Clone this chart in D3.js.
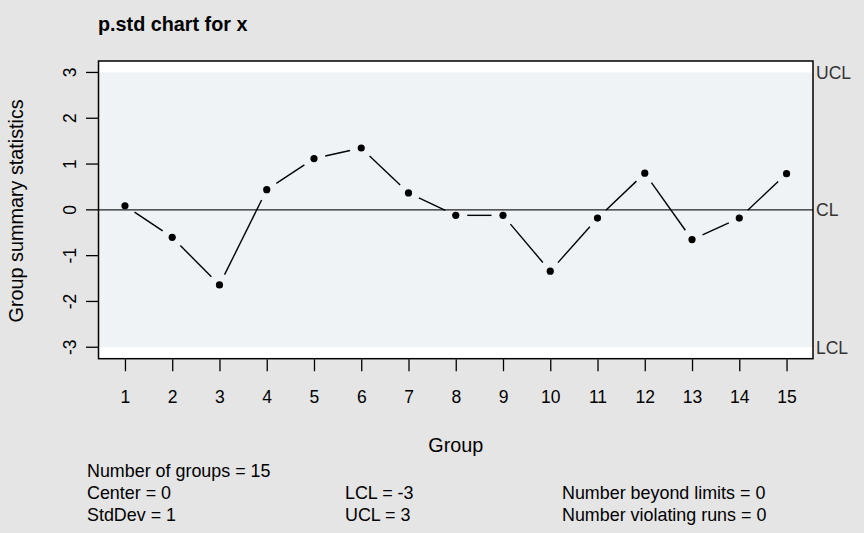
<!DOCTYPE html>
<html><head><meta charset="utf-8">
<script src="https://cdn.jsdelivr.net/npm/d3@7"></script>
<style>
html,body{margin:0;padding:0;background:#E5E5E5;}
svg{display:block;font-family:"Liberation Sans",Arial,Helvetica,sans-serif;}
</style></head>
<body>
<svg id="chart" width="864" height="533"></svg>
<script>
// ---- data ----
const groups = [1,2,3,4,5,6,7,8,9,10,11,12,13,14,15];
const stats  = [0.09,-0.60,-1.64,0.44,1.12,1.35,0.37,-0.12,-0.12,-1.34,-0.18,0.80,-0.65,-0.18,0.79];
const yTicks = [-3,-2,-1,0,1,2,3];
const center = 0, lcl = -3, ucl = 3;
const limitLabels = [["UCL", 3], ["CL", 0], ["LCL", -3]];
const title = "p.std chart for x";
const xLabel = "Group", yLabel = "Group summary statistics";
const statCol1 = ["Number of groups = 15", "Center = 0", "StdDev = 1"];
const statCol2 = ["", "LCL = -3", "UCL = 3"];
const statCol3 = ["", "Number beyond limits = 0", "Number violating runs = 0"];

const svg = d3.select("#chart");
const L = 98.5, R = 813, T = 61, B = 358.7;
const x = d3.scaleLinear().domain([0.44, 15.56]).range([L, R]);
const y = d3.scaleLinear().domain([-3.25, 3.25]).range([B, T]);
const fmt = d => String(d);

svg.append("rect").attr("width",864).attr("height",533).attr("fill","#E5E5E5");
// plot region
svg.append("rect").attr("x",L).attr("y",T).attr("width",R-L).attr("height",B-T).attr("fill","#FFFFFF");
svg.append("rect").attr("x",L).attr("y",y(ucl)).attr("width",R-L).attr("height",y(lcl)-y(ucl)).attr("fill","#EFF3F6");

// center line
svg.append("line").attr("x1",L).attr("x2",R).attr("y1",y(center)).attr("y2",y(center))
  .attr("stroke","#222").attr("stroke-width",1.3);

// axes
const yAxis = svg.append("g").attr("transform",`translate(${L-0.5},0)`)
  .call(d3.axisLeft(y).tickValues(yTicks).tickSize(12).tickPadding(0).tickFormat(fmt));
yAxis.select(".domain").remove();
yAxis.selectAll("line").attr("stroke","#000").attr("stroke-width",1.3);
yAxis.selectAll("text").attr("font-size",17.5).attr("fill","#000")
  .attr("text-anchor","middle").attr("dy",null)
  .attr("transform",d=>`translate(-28,${y(d)}) rotate(-90)`).attr("x",0).attr("y",0)
  .attr("dominant-baseline","central");
yAxis.selectAll(".tick").attr("transform",null);
yAxis.selectAll(".tick line").attr("y1",d=>y(d)).attr("y2",d=>y(d)).attr("x1",0).attr("x2",-12);

const xAxis = svg.append("g").attr("transform",`translate(0,${B+0.5})`)
  .call(d3.axisBottom(x).tickValues(groups).tickSize(12).tickPadding(0).tickFormat(fmt));
xAxis.select(".domain").remove();
xAxis.selectAll("line").attr("stroke","#000").attr("stroke-width",1.3);
xAxis.selectAll("text").attr("font-size",17.5).attr("fill","#000").attr("dy",null).attr("y",44);

// box
svg.append("rect").attr("x",L).attr("y",T).attr("width",R-L).attr("height",B-T)
  .attr("fill","none").attr("stroke","#000").attr("stroke-width",1.5);

// segments with gaps (type "b")
const gap = 11.5;
const pts = groups.map((g,i)=>[x(g), y(stats[i])]);
const segs = [];
for (let i=0;i<pts.length-1;i++){
  const [x1,y1]=pts[i],[x2,y2]=pts[i+1];
  const dx=x2-x1, dy=y2-y1, len=Math.hypot(dx,dy);
  if (len>2*gap){
    const ux=dx/len, uy=dy/len;
    segs.push([x1+ux*gap,y1+uy*gap,x2-ux*gap,y2-uy*gap]);
  }
}
svg.append("g").selectAll("line").data(segs).join("line")
  .attr("x1",d=>d[0]).attr("y1",d=>d[1]).attr("x2",d=>d[2]).attr("y2",d=>d[3])
  .attr("stroke","#000").attr("stroke-width",1.4);
svg.append("g").selectAll("circle").data(groups).join("circle")
  .attr("cx",d=>x(d)).attr("cy",(d,i)=>y(stats[i])).attr("r",3.6).attr("fill","#000");

// limit labels
svg.append("g").selectAll("text").data(limitLabels).join("text")
  .attr("x",R+3).attr("y",d=>y(d[1])+6.5).attr("font-size",17.5).attr("fill","#333").text(d=>d[0]);

// titles
svg.append("text").attr("x",98).attr("y",31).attr("font-size",19.8).attr("font-weight","bold").text(title);
svg.append("text").attr("x",(L+R)/2).attr("y",451.5).attr("text-anchor","middle").attr("font-size",19.8).text(xLabel);
svg.append("text").attr("transform",`translate(23,${(T+B)/2+1}) rotate(-90)`).attr("text-anchor","middle")
  .attr("font-size",19.8).text(yLabel);

// stats
const rowsY = [477, 499, 520.5];
const cols = [[87,statCol1],[345,statCol2],[562,statCol3]];
cols.forEach(([cx,arr])=>{
  svg.append("g").selectAll("text").data(arr).join("text")
    .attr("x",cx).attr("y",(d,i)=>rowsY[i]).attr("font-size",17.9).text(d=>d);
});
</script>
</body></html>
